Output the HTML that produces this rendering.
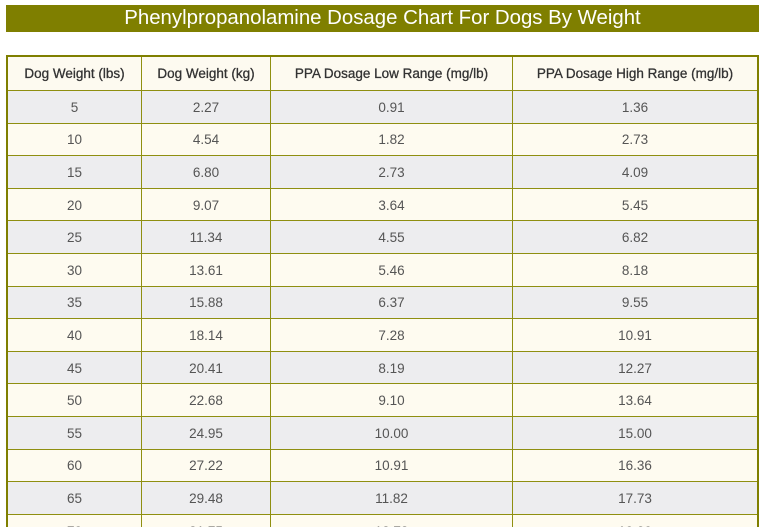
<!DOCTYPE html>
<html><head><meta charset="utf-8"><style>
body{margin:0;width:768px;height:518px;overflow:hidden;background:#fff;font-family:"Liberation Sans",sans-serif;position:relative}
.t{position:absolute;left:6px;top:5px;width:753px;height:27px;background:#7f7f00;color:#fff;font-size:20.4px;line-height:27px;text-align:center}
.tb{position:absolute;left:6px;top:55px;width:749px;height:470px;border:2px solid #7f7f00;border-bottom:none;overflow:hidden}
.r{position:absolute;left:0;width:749px;border-top:1px solid #8f8f10;font-size:13.5px;color:#555}
.r div{position:absolute;top:0;height:100%;display:flex;align-items:center;justify-content:center;border-left:1px solid #8f8f10;box-sizing:border-box}
.h{color:#333;font-size:13.5px;-webkit-text-stroke:0.3px #333}
</style></head><body>
<div class="t">Phenylpropanolamine Dosage Chart For Dogs By Weight</div>
<div class="tb" id="tb"></div>
<script>
var d=[["5","2.27","0.91","1.36"],["10","4.54","1.82","2.73"],["15","6.80","2.73","4.09"],["20","9.07","3.64","5.45"],["25","11.34","4.55","6.82"],["30","13.61","5.46","8.18"],["35","15.88","6.37","9.55"],["40","18.14","7.28","10.91"],["45","20.41","8.19","12.27"],["50","22.68","9.10","13.64"],["55","24.95","10.00","15.00"],["60","27.22","10.91","16.36"],["65","29.48","11.82","17.73"],["70","31.75","12.73","19.09"]];
var xs=[0,133,262,504,749];
function row(cells,top,h,bg,cls){var r=document.createElement('div');r.className='r'+(cls?' '+cls:'');r.style.top=top+'px';r.style.height=h+'px';r.style.background=bg;if(top==0)r.style.borderTop='none';
for(var i=0;i<4;i++){var c=document.createElement('div');c.style.left=xs[i]+'px';c.style.width=(xs[i+1]-xs[i])+'px';if(i==0)c.style.borderLeft='none';c.textContent=cells[i];r.appendChild(c);}document.getElementById('tb').appendChild(r);}
row(["Dog Weight (lbs)","Dog Weight (kg)","PPA Dosage Low Range (mg/lb)","PPA Dosage High Range (mg/lb)"],0,33,'#fdfaf0','h');
for(var i=0;i<d.length;i++){row(d[i],33+i*32.6,32.6,i%2?'#fefbf0':'#ededef');}
</script>
</body></html>
